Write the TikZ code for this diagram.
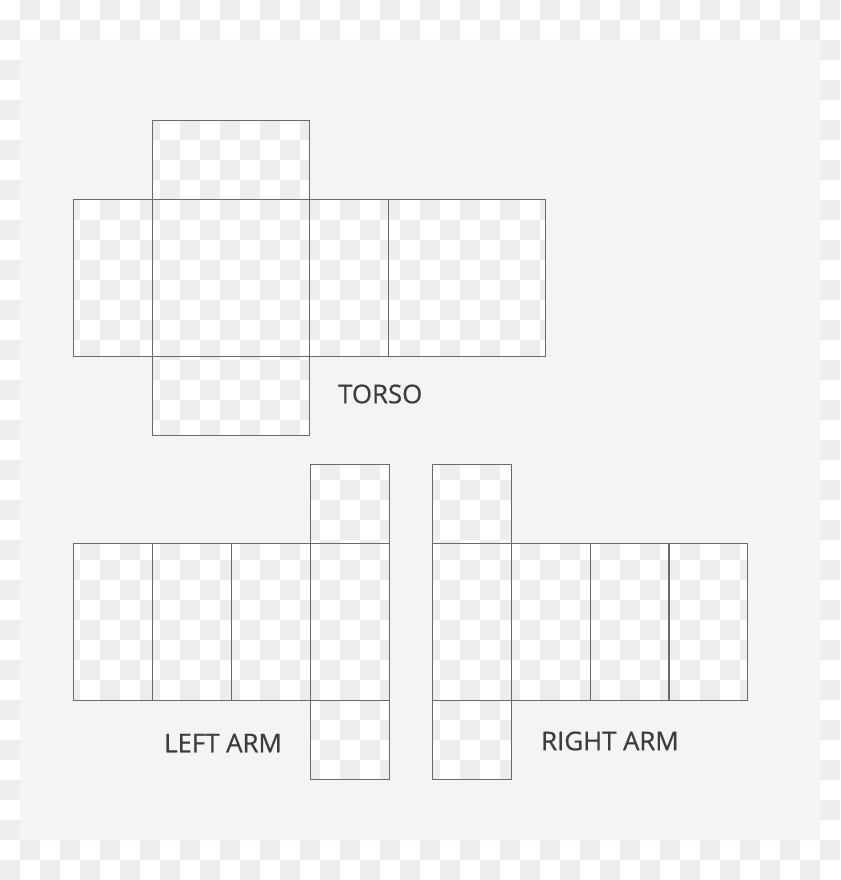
\documentclass[tikz,border=0pt]{standalone}
\usepackage{fontspec}
\setmainfont{Open Sans}
\newfontfamily\labelfont[FakeBold=0.6]{Open Sans}
\definecolor{checkgrey}{HTML}{EDEDED}
\definecolor{panelgrey}{HTML}{F4F4F4}
\definecolor{edgegrey}{HTML}{6A6A6A}
\definecolor{labelgrey}{HTML}{3C3C3C}
\tikzset{
    face/.style = {draw=edgegrey, line width=0.9pt},
    partlabel/.style = {text=labelgrey, font=\labelfont\fontsize{25.8}{30}\selectfont, inner sep=0pt, anchor=west}
}

\begin{document}
\begin{tikzpicture}[x=1pt, y=-1pt]
    \useasboundingbox (0,0) rectangle (840,880);
    % transparent background
    \fill[white] (0,0) rectangle (840,880);
    \foreach \i in {0,...,41} {
        \foreach \j in {0,...,43} {
            \pgfmathparse{int(mod(\i+\j,2))}
            \ifnum\pgfmathresult=1
                \fill[checkgrey] (20*\i,20*\j) rectangle ++(20,20);
            \fi
        }
    }
    % grey sheet with the faces cut out
    \fill[panelgrey, even odd rule] (20,40) rectangle (820,840)
        (152,120) rectangle (309,199) (73,199) rectangle (545,356) (152,356) rectangle (309,435)
        (310,464) rectangle (389,543) (73,543) rectangle (389,700) (310,700) rectangle (389,779)
        (432,464) rectangle (511,543) (432,543) rectangle (747,700) (432,700) rectangle (511,779);
    % torso
    \draw[face] (152,120) rectangle (309,199);
    \draw[face] (73,199) rectangle (152,356);
    \draw[face] (152,199) rectangle (309,356);
    \draw[face] (309,199) rectangle (388,356);
    \draw[face] (388,199) rectangle (545,356);
    \draw[face] (152,356) rectangle (309,435);
    % left arm
    \draw[face] (310,464) rectangle (389,543);
    \foreach \x in {73,152,231,310} {
        \draw[face] (\x,543) rectangle ++(79,157);
    }
    \draw[face] (310,700) rectangle (389,779);
    % right arm
    \draw[face] (432,464) rectangle (511,543);
    \foreach \x in {432,511,590,668} {
        \draw[face] (\x,543) rectangle ++(79,157);
    }
    \draw[face] (432,700) rectangle (511,779);
    % labels
    \node[partlabel] (torso) at (338,394) {TORSO};
    \node[partlabel] (leftarm) at (164,743) {LEFT ARM};
    \node[partlabel] (rightarm) at (541,741) {RIGHT ARM};
\end{tikzpicture}
\end{document}
